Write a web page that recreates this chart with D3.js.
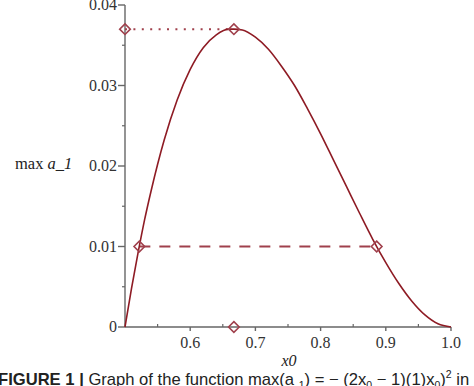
<!DOCTYPE html>
<html><head><meta charset="utf-8">
<script src="https://cdn.jsdelivr.net/npm/d3@7"></script>
<style>
html,body{margin:0;padding:0;background:#fff;overflow:hidden;}
svg{display:block;}
</style></head>
<body>
<script>
// ---- data ----
const curveX = [0.50, 0.51, 0.52, 0.53, 0.54, 0.56, 0.58, 0.60, 0.62, 0.64, 0.66, 0.667, 0.68, 0.70, 0.72, 0.74, 0.76, 0.78, 0.80, 0.82, 0.84, 0.86, 0.88, 0.90, 0.92, 0.94, 0.96, 0.98, 1.00];
const curveY = [0, 0.0048, 0.0092, 0.0133, 0.0169, 0.0232, 0.0282, 0.0320, 0.0347, 0.0363, 0.0370, 0.0370, 0.0369, 0.0360, 0.0345, 0.0324, 0.0300, 0.0271, 0.0240, 0.0207, 0.0174, 0.0141, 0.0109, 0.0080, 0.0054, 0.0032, 0.0015, 0.0004, 0];
const markerX = [0.5, 0.667, 0.522, 0.886, 0.667];
const markerY = [0.037, 0.037, 0.01, 0.01, 0];
const dottedLine = [[0.5, 0.037], [0.667, 0.037]];
const dashedLine = [[0.522, 0.01], [0.886, 0.01]];
const xTicks = [0.6, 0.7, 0.8, 0.9, 1.0];
const xTickLabels = ["0.6", "0.7", "0.8", "0.9", "1.0"];
const xMinor = [0.55, 0.65, 0.75, 0.85, 0.95];
const yTicks = [0, 0.01, 0.02, 0.03, 0.04];
const yTickLabels = ["0", "0.01", "0.02", "0.03", "0.04"];
const yMinor = [0.005, 0.015, 0.025, 0.035];

const W = 474, H = 386;
const svg = d3.select("body").append("svg").attr("width", W).attr("height", H);

const x = d3.scaleLinear().domain([0.5, 1.0]).range([125, 451]);
const y = d3.scaleLinear().domain([0, 0.04]).range([327, 5]);

const axisColor = "#666";
const textColor = "#333";
const serif = "'Liberation Serif','DejaVu Serif',serif";
const red = "#8e1b24";
const markColor = "#a0404c";

// y axis
const yAxis = svg.append("g").attr("transform", `translate(${x(0.5)},0)`);
yAxis.append("line").attr("y1", y(0)).attr("y2", y(0.04)).attr("stroke", axisColor).attr("stroke-width", 1.4);
yAxis.selectAll("line.maj").data(yTicks).join("line").attr("class", "maj")
  .attr("x1", -7).attr("x2", 0).attr("y1", d => y(d)).attr("y2", d => y(d))
  .attr("stroke", axisColor).attr("stroke-width", 1.4);
yAxis.selectAll("line.min").data(yMinor).join("line").attr("class", "min")
  .attr("x1", -3).attr("x2", 0).attr("y1", d => y(d)).attr("y2", d => y(d))
  .attr("stroke", axisColor).attr("stroke-width", 1.2);
yAxis.selectAll("text").data(yTicks).join("text")
  .attr("x", -8).attr("y", d => y(d)).attr("dy", "0.34em").attr("text-anchor", "end")
  .attr("font-family", serif).attr("font-size", 16).attr("fill", textColor)
  .text((d, i) => yTickLabels[i]);

// x axis
const xAxis = svg.append("g").attr("transform", `translate(0,${y(0)})`);
xAxis.append("line").attr("x1", x(0.5)).attr("x2", x(1.0)).attr("stroke", axisColor).attr("stroke-width", 1.4);
xAxis.selectAll("line.maj").data(xTicks).join("line").attr("class", "maj")
  .attr("x1", d => x(d)).attr("x2", d => x(d)).attr("y1", 0).attr("y2", 4)
  .attr("stroke", axisColor).attr("stroke-width", 1.4);
xAxis.selectAll("line.min").data(xMinor).join("line").attr("class", "min")
  .attr("x1", d => x(d)).attr("x2", d => x(d)).attr("y1", -3).attr("y2", 0)
  .attr("stroke", axisColor).attr("stroke-width", 1.2);
xAxis.selectAll("text").data(xTicks).join("text")
  .attr("x", d => x(d)).attr("y", 21).attr("text-anchor", "middle")
  .attr("font-family", serif).attr("font-size", 16).attr("fill", textColor)
  .text((d, i) => xTickLabels[i]);

// axis titles
const yt = svg.append("text").attr("x", 15).attr("y", 169)
  .attr("font-family", serif).attr("font-size", 16.5).attr("fill", "#222");
yt.append("tspan").text("max ");
yt.append("tspan").attr("font-style", "italic").text("a_1");
svg.append("text").attr("x", 289).attr("y", 366).attr("text-anchor", "middle")
  .attr("font-family", serif).attr("font-size", 16).attr("font-style", "italic").attr("fill", "#222")
  .text("x0");

// reference lines
const line = d3.line().x(d => x(d[0])).y(d => y(d[1]));
svg.append("path").attr("d", line(dottedLine)).attr("fill", "none")
  .attr("stroke", markColor).attr("stroke-width", 2).attr("stroke-dasharray", "2,6.4");
svg.append("path").attr("d", line(dashedLine)).attr("fill", "none")
  .attr("stroke", markColor).attr("stroke-width", 2).attr("stroke-dasharray", "11,9");

// curve
const pts = curveX.map((v, i) => [v, curveY[i]]);
svg.append("path").attr("d", d3.line().x(d => x(d[0])).y(d => y(d[1])).curve(d3.curveMonotoneX)(pts))
  .attr("fill", "none").attr("stroke", red).attr("stroke-width", 1.6);

// diamond markers
const sym = d3.symbol().type(d3.symbolDiamond2).size(72);
svg.selectAll("path.mk").data(markerX.map((v, i) => [v, markerY[i]])).join("path").attr("class", "mk")
  .attr("transform", d => `translate(${x(d[0])},${y(d[1])})`)
  .attr("d", sym).attr("fill", "none").attr("stroke", markColor).attr("stroke-width", 1.6);

// caption (cut off at bottom as in the reference)
const cap = svg.append("text").attr("x", -2).attr("y", 385)
  .attr("font-family", "'Liberation Sans',Arial,sans-serif").attr("font-size", 16.6).attr("fill", "#222");
cap.append("tspan").attr("font-weight", "bold").text("FIGURE 1 | ");
cap.append("tspan").text("Graph of the function max(a ");
cap.append("tspan").attr("font-size", 10.5).attr("dy", 4).text("1");
cap.append("tspan").attr("dy", -4).text(") = \u2212 (2x");
cap.append("tspan").attr("font-size", 10.5).attr("dy", 4).text("0");
cap.append("tspan").attr("dy", -4).text(" \u2212 1)(1)x");
cap.append("tspan").attr("font-size", 10.5).attr("dy", 4).text("0");
cap.append("tspan").attr("dy", -4).text(")");
cap.append("tspan").attr("font-size", 10.5).attr("dy", -7).text("2");
cap.append("tspan").attr("dy", 7).text(" in");
</script>
</body></html>
